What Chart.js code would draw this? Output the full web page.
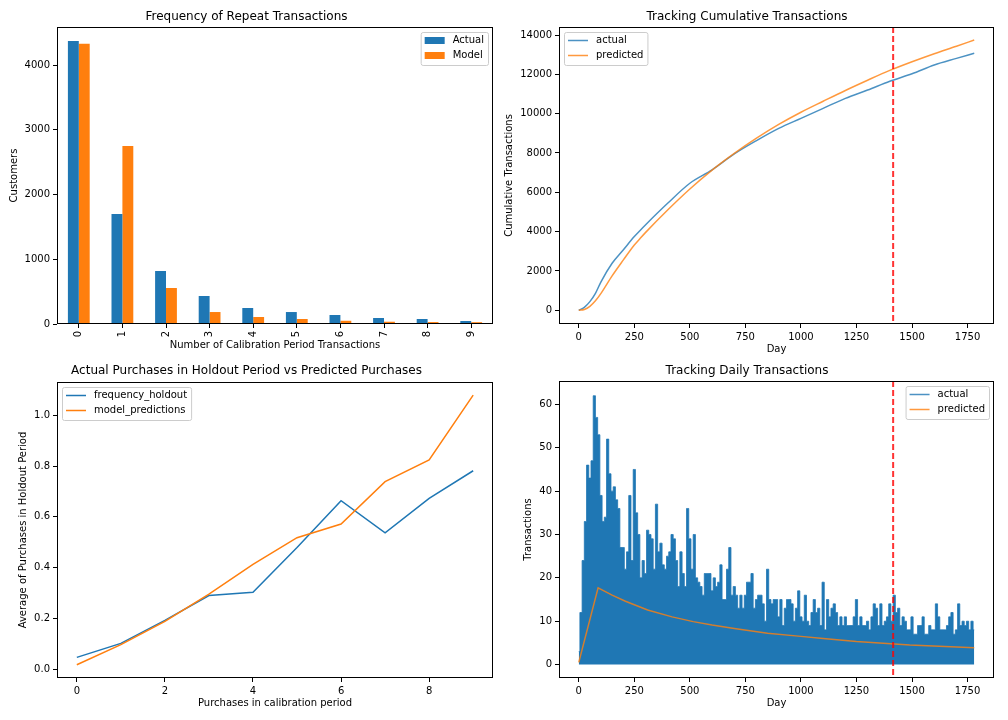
<!DOCTYPE html>
<html>
<head>
<meta charset="utf-8">
<script src="https://cdn.jsdelivr.net/npm/chart.js@4.4.1/dist/chart.umd.min.js"></script>
<style>
  html, body { margin: 0; padding: 0; background: #fff; }
  #wrap { position: relative; width: 1008px; height: 720px; }
  canvas { position: absolute; }
</style>
</head>
<body>
<div id="wrap">
  <canvas id="c1" width="504" height="360" style="left:0;top:0"></canvas>
  <canvas id="c2" width="508" height="360" style="left:500px;top:0"></canvas>
  <canvas id="c3" width="504" height="360" style="left:0;top:360px"></canvas>
  <canvas id="c4" width="508" height="360" style="left:500px;top:360px"></canvas>
</div>
<script>
// --- data ---
// frequency of repeat transactions
const freqLabels = ['0', '1', '2', '3', '4', '5', '6', '7', '8', '9'];
const freqActual = [4374, 1700, 819, 433, 247, 185, 139, 93, 77, 46];
const freqModel = [4330, 2750, 556, 185, 108, 77, 50, 35, 30, 28];
const freqTicks = [0, 1000, 2000, 3000, 4000];

// cumulative transactions
const cumDays = [0, 25, 50, 75, 100, 150, 200, 250, 275, 300, 400, 500, 600, 700, 800, 900, 1000, 1100, 1200, 1300, 1400, 1500, 1600, 1700, 1780];
const cumActual = [0, 150, 440, 860, 1450, 2390, 3070, 3750, 4050, 4340, 5440, 6460, 7140, 7950, 8630, 9250, 9760, 10270, 10780, 11200, 11650, 12030, 12475, 12810, 13070];
const cumPredicted = [0, 40, 200, 480, 860, 1750, 2550, 3320, 3640, 3950, 5100, 6170, 7130, 7980, 8750, 9450, 10070, 10630, 11180, 11700, 12200, 12640, 13050, 13430, 13745];
const cumTicks = [0, 2000, 4000, 6000, 8000, 10000, 12000, 14000];
const dayTicks = [0, 250, 500, 750, 1000, 1250, 1500, 1750];
const holdoutDay = 1415;

// holdout vs predicted purchases
const calibPurchases = [0, 1, 2, 3, 4, 5, 6, 7, 8, 9];
const holdoutActual = [0.046, 0.101, 0.192, 0.290, 0.303, 0.479, 0.664, 0.537, 0.673, 0.782];
const holdoutModel = [0.017, 0.096, 0.188, 0.295, 0.413, 0.518, 0.572, 0.739, 0.825, 1.080];
const calibTicks = [0, 2, 4, 6, 8];
const holdoutTicks = [0, 0.2, 0.4, 0.6, 0.8, 1.0];

// daily transactions (peak per 10-day bin, day 0 .. 1780)
const dailyStep = 10;
const dailyActual = [
  3, 12, 24, 33, 46, 43, 47, 62, 57, 53, 39, 33, 34, 52, 44, 40, 41, 38, 36, 27,
  27, 22, 26, 39, 24, 45, 35, 30, 20, 24, 21, 31, 30, 29, 22, 37, 26, 28, 23, 22,
  25, 26, 30, 29, 24, 18, 26, 21, 18, 36, 29, 22, 30, 20, 19, 18, 16, 21, 21, 21,
  17, 20, 18, 19, 23, 15, 15, 22, 27, 16, 18, 16, 13, 16, 13, 16, 19, 19, 21, 13,
  15, 16, 16, 14, 10, 22, 15, 14, 15, 15, 11, 15, 9, 13, 15, 15, 14, 10, 13, 17,
  11, 10, 16, 10, 9, 12, 15, 12, 13, 9, 19, 8, 15, 11, 13, 14, 12, 9, 11, 9,
  11, 9, 9, 9, 11, 15, 9, 11, 9, 9, 10, 8, 11, 14, 13, 9, 14, 9, 10, 11,
  14, 10, 16, 12, 13, 9, 11, 10, 8, 8, 11, 7, 7, 9, 9, 11, 7, 7, 9, 8,
  8, 14, 11, 8, 8, 8, 9, 11, 12, 7, 8, 14, 9, 10, 9, 10, 8, 10, 8
];
const dailyPredDays = [0, 87, 150, 210, 310, 420, 515, 600, 700, 850, 1000, 1100, 1250, 1490, 1780];
const dailyPredicted = [0.5, 17.7, 16.0, 14.6, 12.6, 11.0, 9.9, 9.1, 8.3, 7.2, 6.5, 6.0, 5.3, 4.5, 3.9];
const dailyTicks = [0, 10, 20, 30, 40, 50, 60];

const BLUE = '#1f77b4';
const ORANGE = '#ff7f0e';
const BLUE_A = 'rgba(31,119,180,0.8)';
const ORANGE_A = 'rgba(255,127,14,0.8)';

Chart.defaults.font.family = '"DejaVu Sans", sans-serif';
Chart.defaults.font.size = 10;
Chart.defaults.color = '#000';

// axes frame, holdout line and matplotlib-like legend inside the axes
const mplPlugin = {
  id: 'mpl',
  afterDatasetsDraw(chart, args, opts) {
    const { ctx, chartArea: a } = chart;
    if (opts.vline !== undefined) {
      const x = chart.scales.x.getPixelForValue(opts.vline);
      ctx.save();
      ctx.strokeStyle = 'rgba(255,0,0,0.8)';
      ctx.lineWidth = 2;
      ctx.setLineDash([6, 3]);
      ctx.beginPath();
      ctx.moveTo(x, a.top);
      ctx.lineTo(x, a.bottom);
      ctx.stroke();
      ctx.restore();
    }
    ctx.save();
    ctx.strokeStyle = '#000';
    ctx.lineWidth = 1;
    ctx.strokeRect(a.left + 0.5, a.top + 0.5, a.right - a.left - 1, a.bottom - a.top - 1);
    ctx.restore();
  },
  afterDraw(chart, args, opts) {
    if (!opts.corner) return;
    const { ctx, chartArea: a } = chart;
    const isBar = chart.config.type === 'bar';
    const items = chart.data.datasets.map(d => ({ label: d.label, color: isBar ? d.backgroundColor : d.borderColor }));
    ctx.save();
    ctx.font = '10px "DejaVu Sans"';
    const tw = Math.max(...items.map(i => ctx.measureText(i.label).width));
    const w = 4 + 20 + 8 + tw + 4;
    const h = 15 * items.length + 3;
    const x = opts.corner === 'ur' ? a.right - 5 - w : a.left + 5;
    const y = a.top + 5;
    ctx.beginPath();
    ctx.roundRect(x + 0.5, y + 0.5, w, h, 2);
    ctx.fillStyle = 'rgba(255,255,255,0.8)';
    ctx.fill();
    ctx.strokeStyle = '#cccccc';
    ctx.lineWidth = 1;
    ctx.stroke();
    items.forEach((it, i) => {
      const cy = y + 8.5 + 15 * i;
      if (isBar) {
        ctx.fillStyle = it.color;
        ctx.fillRect(x + 4, cy - 3.5, 20, 7);
      } else {
        ctx.strokeStyle = it.color;
        ctx.lineWidth = 1.5;
        ctx.beginPath();
        ctx.moveTo(x + 4, cy);
        ctx.lineTo(x + 24, cy);
        ctx.stroke();
      }
      ctx.fillStyle = '#000';
      ctx.textBaseline = 'middle';
      ctx.fillText(it.label, x + 32, cy);
    });
    ctx.restore();
  }
};

function tickGrid() {
  return { display: true, drawOnChartArea: false, drawTicks: true, tickLength: 4, tickColor: '#000', tickWidth: 1, offset: false };
}

function linAxis(min, max, ticks, size, horizontal, title, titlePad, fmt) {
  return {
    type: 'linear',
    min: min,
    max: max,
    afterBuildTicks: s => { s.ticks = ticks.map(v => ({ value: v })); },
    afterFit: s => { if (horizontal) s.height = size; else s.width = size; },
    border: { display: false },
    grid: tickGrid(),
    ticks: { padding: 3, color: '#000', autoSkip: false, maxRotation: 0, callback: fmt || (v => String(v)) },
    title: { display: true, text: title, color: '#000', padding: horizontal ? { top: 0, bottom: titlePad } : { top: titlePad, bottom: 0 } }
  };
}

function titleOpts(text, top, bottom) {
  return { display: true, text: text, color: '#000', font: { size: 12, weight: 'normal' }, padding: { top: top, bottom: bottom } };
}

const common = {
  responsive: false,
  animation: false,
  devicePixelRatio: 1,
  events: []
};

// 1. Frequency of Repeat Transactions
new Chart(document.getElementById('c1'), {
  type: 'bar',
  data: {
    labels: freqLabels,
    datasets: [
      { label: 'Actual', data: freqActual, backgroundColor: BLUE },
      { label: 'Model', data: freqModel, backgroundColor: ORANGE }
    ]
  },
  options: Object.assign({}, common, {
    layout: { padding: { left: 0, right: 11, top: 0, bottom: 0 } },
    datasets: { bar: { categoryPercentage: 0.5, barPercentage: 1.0 } },
    scales: {
      x: {
        type: 'category',
        afterFit: s => { s.height = 36; },
        border: { display: false },
        grid: tickGrid(),
        ticks: { padding: 3, color: '#000', autoSkip: false, minRotation: 90, maxRotation: 90 },
        title: { display: true, text: 'Number of Calibration Period Transactions', color: '#000', padding: { top: 0, bottom: 9 } }
      },
      y: linAxis(0, 4590, freqTicks, 57, false, 'Customers', 8)
    },
    plugins: {
      legend: { display: false },
      tooltip: { enabled: false },
      title: titleOpts('Frequency of Repeat Transactions', 9.6, 3),
      mpl: { corner: 'ur' }
    }
  }),
  plugins: [mplPlugin]
});

// 2. Tracking Cumulative Transactions
new Chart(document.getElementById('c2'), {
  type: 'line',
  data: {
    datasets: [
      { label: 'actual', data: cumDays.map((d, i) => ({ x: d, y: cumActual[i] })), borderColor: BLUE_A, borderWidth: 1.5, pointRadius: 0, cubicInterpolationMode: 'monotone', order: 1 },
      { label: 'predicted', data: cumDays.map((d, i) => ({ x: d, y: cumPredicted[i] })), borderColor: ORANGE_A, borderWidth: 1.5, pointRadius: 0, cubicInterpolationMode: 'monotone', order: 0 }
    ]
  },
  options: Object.assign({}, common, {
    layout: { padding: { left: 0, right: 14, top: 0, bottom: 0 } },
    scales: {
      x: linAxis(-89, 1869, dayTicks, 36, true, 'Day', 4.7),
      y: linAxis(-697, 14407, cumTicks, 59, false, 'Cumulative Transactions', 3.3)
    },
    plugins: {
      legend: { display: false },
      tooltip: { enabled: false },
      title: titleOpts('Tracking Cumulative Transactions', 9.6, 3),
      mpl: { corner: 'ul', vline: holdoutDay }
    }
  }),
  plugins: [mplPlugin]
});

// 3. Actual Purchases in Holdout Period vs Predicted Purchases
new Chart(document.getElementById('c3'), {
  type: 'line',
  data: {
    datasets: [
      { label: 'frequency_holdout', data: calibPurchases.map((c, i) => ({ x: c, y: holdoutActual[i] })), borderColor: BLUE, borderWidth: 1.5, pointRadius: 0, tension: 0, order: 1 },
      { label: 'model_predictions', data: calibPurchases.map((c, i) => ({ x: c, y: holdoutModel[i] })), borderColor: ORANGE, borderWidth: 1.5, pointRadius: 0, tension: 0, order: 0 }
    ]
  },
  options: Object.assign({}, common, {
    layout: { padding: { left: 0, right: 11, top: 0, bottom: 0 } },
    scales: {
      x: linAxis(-0.45, 9.45, calibTicks, 42, true, 'Purchases in calibration period', 10.7),
      y: linAxis(-0.0354, 1.132, holdoutTicks, 57, false, 'Average of Purchases in Holdout Period', 17.3, v => v.toFixed(1))
    },
    plugins: {
      legend: { display: false },
      tooltip: { enabled: false },
      title: titleOpts('Actual Purchases in Holdout Period vs Predicted Purchases', 3.5, 4.1),
      mpl: { corner: 'ul' }
    }
  }),
  plugins: [mplPlugin]
});

// 4. Tracking Daily Transactions
new Chart(document.getElementById('c4'), {
  type: 'line',
  data: {
    datasets: [
      { label: 'actual', data: dailyActual.map((v, i) => ({ x: i * dailyStep, y: v })), borderColor: BLUE_A, backgroundColor: BLUE, fill: 'origin', stepped: 'middle', borderWidth: 1, pointRadius: 0, order: 1 },
      { label: 'predicted', data: dailyPredDays.map((d, i) => ({ x: d, y: dailyPredicted[i] })), borderColor: ORANGE_A, borderWidth: 1.5, pointRadius: 0, tension: 0, order: 0 }
    ]
  },
  options: Object.assign({}, common, {
    layout: { padding: { left: 0, right: 14, top: 0, bottom: 0 } },
    scales: {
      x: linAxis(-89, 1869, dayTicks, 42, true, 'Day', 10.7),
      y: linAxis(-3.1, 65.4, dailyTicks, 59, false, 'Transactions', 22.7)
    },
    plugins: {
      legend: { display: false },
      tooltip: { enabled: false },
      title: titleOpts('Tracking Daily Transactions', 3.5, 3.1),
      mpl: { corner: 'ur', vline: holdoutDay }
    }
  }),
  plugins: [mplPlugin]
});
</script>
</body>
</html>
